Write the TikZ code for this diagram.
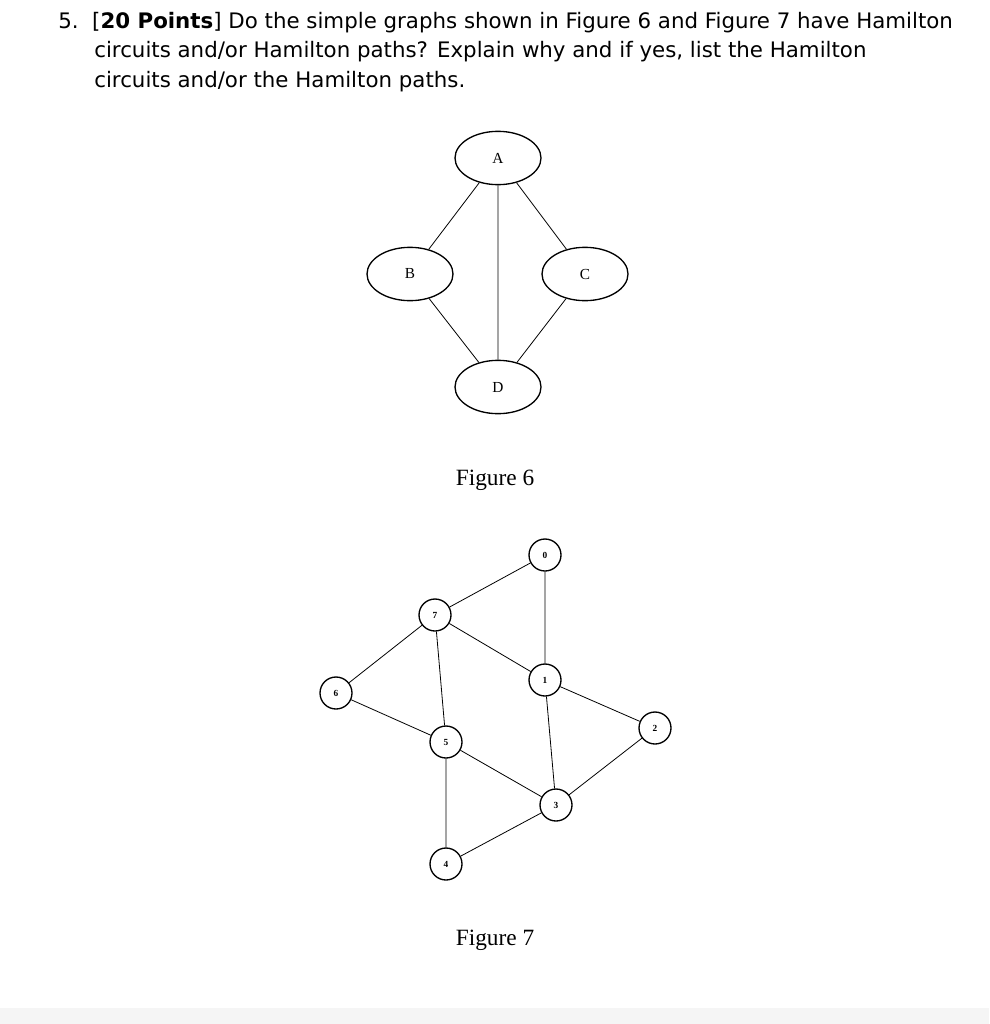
\documentclass[tikz,border=0pt]{standalone}
\usepackage{fontspec}
\setmainfont{Liberation Serif}
\newfontfamily\qfont{DejaVu Sans}
\usetikzlibrary{shapes.geometric}
\begin{document}
\begin{tikzpicture}[x=0.75pt,y=-0.75pt,
  ell/.style={draw,line width=1pt,ellipse,minimum width=64.5pt,minimum height=40pt,inner sep=0pt,font=\fontsize{11.5}{12}\selectfont},
  cir/.style={draw,line width=1pt,circle,minimum size=24pt,inner sep=0pt,font=\fontsize{7}{8}\selectfont\bfseries},
  edge/.style={line width=0.6pt},
  figcap/.style={font=\fontsize{17.5}{20}\selectfont}]
\useasboundingbox (0,0) rectangle (989,1024);
\fill[gray!8] (0,1008) rectangle (989,1024);
\node[anchor=north west,align=left,inner sep=0pt,font=\qfont\fontsize{16}{22}\selectfont] (q) at (58,12)
 {5.\ \ [\textbf{20 Points}] Do the simple graphs shown in Figure 6 and Figure 7 have Hamilton\\
 \hspace*{27pt}circuits and/or Hamilton paths? Explain why and if yes, list the Hamilton\\
 \hspace*{27pt}circuits and/or the Hamilton paths.};
\node[ell] (A) at (498,158) {A};
\node[ell] (B) at (410,274) {B};
\node[ell] (C) at (585,274) {C};
\node[ell] (D) at (498,387) {D};
\draw[edge] (A)--(B) (A)--(C) (A)--(D) (B)--(D) (C)--(D);
\node[figcap] (f6) at (495,480) {Figure 6};
\node[cir] (n0) at (545,555) {0};
\node[cir] (n7) at (435,615) {7};
\node[cir] (n6) at (336,693) {6};
\node[cir] (n1) at (545,680) {1};
\node[cir] (n2) at (655,728) {2};
\node[cir] (n5) at (446,742) {5};
\node[cir] (n3) at (556,805) {3};
\node[cir] (n4) at (446,864) {4};
\draw[edge] (n0)--(n7) (n0)--(n1) (n7)--(n6) (n7)--(n1) (n7)--(n5) (n6)--(n5)
 (n1)--(n2) (n1)--(n3) (n5)--(n3) (n5)--(n4) (n3)--(n2) (n4)--(n3);
\node[figcap] (f7) at (495,940) {Figure 7};
\end{tikzpicture}
\end{document}
